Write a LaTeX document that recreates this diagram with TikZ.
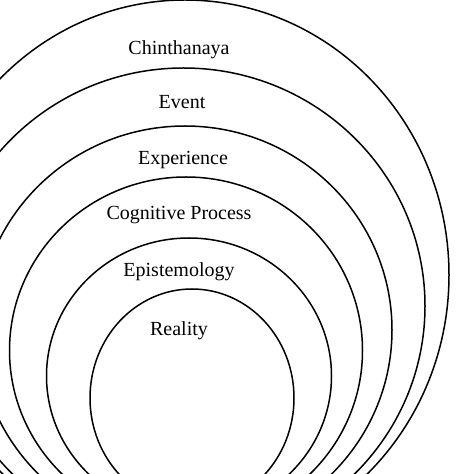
\documentclass[tikz,border=0pt]{standalone}
\usepackage{fontspec}
\setmainfont{Liberation Serif}
\usepackage{tikz}

\begin{document}
\begin{tikzpicture}[x=1pt,y=1pt,
    ring/.style={draw=black,line width=1.5pt},
    lbl/.style={font=\fontsize{20}{24}\selectfont,inner sep=0pt}]
    % Frame do tamanho da figura original
    \useasboundingbox (0,0) rectangle (474,474);
    \clip (0,0) rectangle (474,474);
    % Aneis, de fora para dentro
    \foreach \cx/\cy/\rx/\ry in {185/199/264/275,183.5/168/241.5/238,185/144/207/204,186/123.5/176.5/173.5,189/98/142.5/138,192/76/102/109}
        {\draw[ring] (\cx,\cy) ellipse [x radius=\rx,y radius=\ry];}
    % Rotulos
    \node[lbl] (chin) at (179,424) {Chinthanaya};
    \node[lbl] (ev)   at (182,372) {Event};
    \node[lbl] (exp)  at (183,314) {Experience};
    \node[lbl] (cog)  at (179,259) {Cognitive Process};
    \node[lbl] (epi)  at (179,202) {Epistemology};
    \node[lbl] (real) at (179,143) {Reality};
\end{tikzpicture}
\end{document}
